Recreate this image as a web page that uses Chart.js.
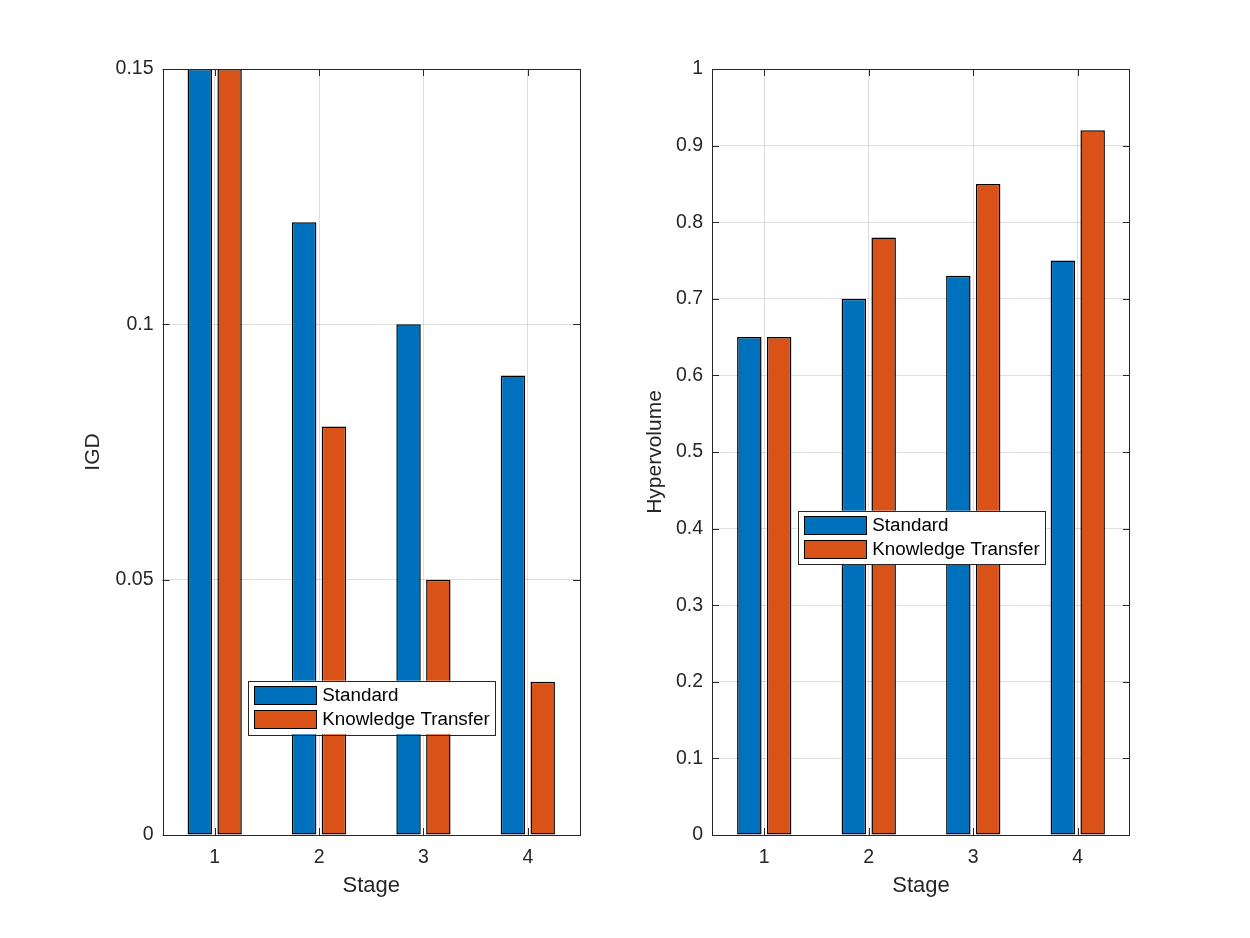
<!DOCTYPE html>
<html>
<head>
<meta charset="utf-8">
<script src="https://cdn.jsdelivr.net/npm/chart.js@4.4.1/dist/chart.umd.min.js"></script>
<style>
  html, body { margin: 0; padding: 0; background: #fff; }
  #fig { position: relative; width: 1250px; height: 938px; }
  #fig canvas { position: absolute; top: 0; }
  #c-igd { left: 0; }
  #c-hv { left: 625px; }
</style>
</head>
<body>
<div id="fig">
  <canvas id="c-igd" width="625" height="938"></canvas>
  <canvas id="c-hv" width="625" height="938"></canvas>
</div>
<script>
/* ---- data -------------------------------------------------------------- */
var stages = ["1", "2", "3", "4"];
var seriesNames = ["Standard", "Knowledge Transfer"];
var igdStandard = [0.15, 0.12, 0.10, 0.09];
var igdTransfer = [0.15, 0.08, 0.05, 0.03];
var hvStandard = [0.65, 0.70, 0.73, 0.75];
var hvTransfer = [0.65, 0.78, 0.85, 0.92];
var igdTicks = [0, 0.05, 0.1, 0.15];
var hvTicks = [0, 0.1, 0.2, 0.3, 0.4, 0.5, 0.6, 0.7, 0.8, 0.9, 1];

/* ---- MATLAB-ish look --------------------------------------------------- */
var BLUE = "#0072BD", ORANGE = "#D95319";
var AXIS = "#262626";
var GRID = "rgba(38,38,38,0.15)";
var FONT = "'Liberation Sans', Arial, Helvetica, sans-serif";
var TICK_LEN = 7;

Chart.defaults.font.family = FONT;
Chart.defaults.color = AXIS;

function fmt(v) { return String(+Number(v).toFixed(4)); }

// boxed axes with inward ticks on all four sides
var boxAxes = {
  id: "boxAxes",
  afterDatasetsDraw: function (chart) {
    var ctx = chart.ctx, a = chart.chartArea, x = chart.scales.x, y = chart.scales.y;
    ctx.save();
    ctx.strokeStyle = AXIS;
    ctx.lineWidth = 1;
    ctx.beginPath();
    x.ticks.forEach(function (t, i) {
      var px = Math.round(x.getPixelForTick(i)) + 0.5;
      ctx.moveTo(px, a.bottom); ctx.lineTo(px, a.bottom - TICK_LEN);
      ctx.moveTo(px, a.top); ctx.lineTo(px, a.top + TICK_LEN);
    });
    y.ticks.forEach(function (t) {
      var py = Math.round(y.getPixelForValue(t.value)) + 0.5;
      ctx.moveTo(a.left, py); ctx.lineTo(a.left + TICK_LEN, py);
      ctx.moveTo(a.right, py); ctx.lineTo(a.right - TICK_LEN, py);
    });
    ctx.stroke();
    ctx.strokeRect(Math.round(a.left) + 0.5, Math.round(a.top) + 0.5,
                   Math.round(a.right - a.left) - 1, Math.round(a.bottom - a.top));
    ctx.restore();
  }
};

// legend box placed inside the axes, like MATLAB's 'best' location
var boxLegend = {
  id: "boxLegend",
  afterDraw: function (chart, args, opts) {
    var ctx = chart.ctx;
    var bx = opts.x, by = opts.y, bw = opts.w, bh = opts.h;
    ctx.save();
    ctx.fillStyle = "#fff";
    ctx.fillRect(bx, by, bw, bh);
    ctx.strokeStyle = AXIS;
    ctx.lineWidth = 1;
    ctx.strokeRect(Math.round(bx) + 0.5, Math.round(by) + 0.5, Math.round(bw), Math.round(bh));
    ctx.font = "18.8px " + FONT;
    ctx.textBaseline = "middle";
    chart.data.datasets.forEach(function (ds, i) {
      var sy = Math.round(by + 5.5 + i * 24.2);
      ctx.fillStyle = ds.backgroundColor;
      ctx.fillRect(Math.round(bx + 6), sy, 62, 18);
      ctx.strokeStyle = "#000";
      ctx.strokeRect(Math.round(bx + 6) + 0.5, sy + 0.5, 62, 18);
      ctx.fillStyle = "#000";
      ctx.fillText(ds.label, bx + 74, sy + 10);
    });
    ctx.restore();
  }
};

function makeChart(id, yTitle, a, b, ticks, yMax, pad, yWidth, yTitleSize, legendPos) {
  return new Chart(document.getElementById(id), {
    type: "bar",
    data: {
      labels: stages,
      datasets: [
        { label: seriesNames[0], data: a, backgroundColor: BLUE },
        { label: seriesNames[1], data: b, backgroundColor: ORANGE }
      ]
    },
    options: {
      responsive: false,
      animation: false,
      devicePixelRatio: 1,
      layout: { padding: pad },
      datasets: {
        bar: {
          categoryPercentage: 0.571,
          barPercentage: 0.82,
          borderColor: "#000",
          borderWidth: 1.5,
          borderSkipped: false
        }
      },
      plugins: {
        legend: { display: false },
        tooltip: { enabled: false },
        boxLegend: legendPos
      },
      scales: {
        x: {
          offset: true,
          grid: { offset: false, color: GRID, drawTicks: false },
          border: { display: false },
          ticks: { padding: 11, color: AXIS, font: { size: 19.5 } },
          title: { display: true, text: "Stage", color: AXIS, font: { size: 22 }, padding: 0 },
          afterFit: function (s) { s.height = 64; }
        },
        y: {
          min: 0,
          max: yMax,
          grid: { color: GRID, drawTicks: false },
          border: { display: false },
          afterBuildTicks: function (s) { s.ticks = ticks.map(function (v) { return { value: v }; }); },
          ticks: { padding: 9, color: AXIS, font: { size: 19.5 }, callback: fmt },
          title: { display: true, text: yTitle, color: AXIS, font: { size: yTitleSize }, padding: 0 },
          afterFit: function (s) { s.width = yWidth; }
        }
      }
    },
    plugins: [boxAxes, boxLegend]
  });
}

makeChart("c-igd", "IGD", igdStandard, igdTransfer, igdTicks, 0.15,
  { left: 81, right: 45, top: 69, bottom: 39 }, 81.5, 21,
  { x: 248.3, y: 680.7, w: 247.4, h: 53.6 });

makeChart("c-hv", "Hypervolume", hvStandard, hvTransfer, hvTicks, 1,
  { left: 18, right: 120, top: 69, bottom: 39 }, 69, 21,
  { x: 173.3, y: 510.7, w: 247.4, h: 53.3 });
</script>
</body>
</html>
